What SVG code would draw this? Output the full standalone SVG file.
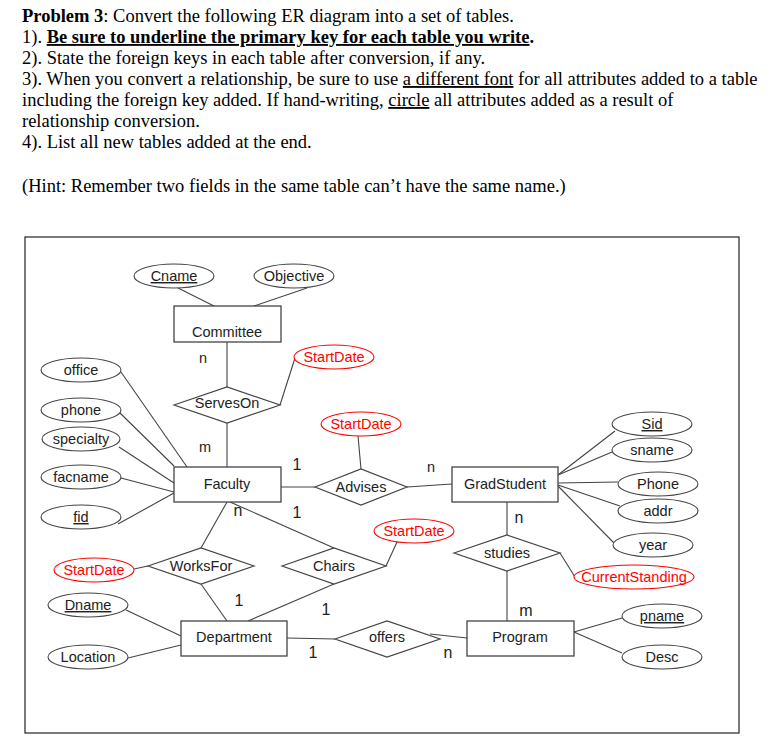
<svg xmlns="http://www.w3.org/2000/svg" width="772" height="749" viewBox="0 0 772 749">
<style>
.h{font-family:"Liberation Serif","Times New Roman",serif;font-size:18.5px;fill:#000}
.b{font-weight:bold}
.u{text-decoration:underline}
.t{font-family:"Liberation Sans",Arial,sans-serif;font-size:14.5px;fill:#222;text-anchor:middle}
.k{font-size:16px}
.r{fill:#f00}
.ent{fill:#fff;stroke:#444;stroke-width:1.3}
.rel{fill:#fff;stroke:#444;stroke-width:1.2}
.att{fill:#fff;stroke:#444;stroke-width:1.1}
.ratt{fill:#fff;stroke:#f00;stroke-width:1.1}
.c line{stroke:#444;stroke-width:1.1}
</style>
<rect width="772" height="749" fill="#fff"/>
<g id="header">
<text class="h" x="22" y="22"><tspan class="b">Problem 3</tspan>: Convert the following ER diagram into a set of tables.</text>
<text class="h" x="22" y="43">1). <tspan class="b u">Be sure to underline the primary key for each table you write</tspan><tspan class="b">.</tspan></text>
<text class="h" x="22" y="64">2). State the foreign keys in each table after conversion, if any.</text>
<text class="h" x="22" y="85">3). When you convert a relationship, be sure to use <tspan class="u">a different font</tspan> for all attributes added to a table</text>
<text class="h" x="22" y="106">including the foreign key added. If hand-writing, <tspan class="u">circle</tspan> all attributes added as a result of</text>
<text class="h" x="22" y="127">relationship conversion.</text>
<text class="h" x="22" y="148">4). List all new tables added at the end.</text>
<text class="h" x="22" y="192">(Hint: Remember two fields in the same table can’t have the same name.)</text>
</g>
<rect id="frame" x="25" y="237" width="714" height="496" fill="none" stroke="#333" stroke-width="1.3"/>
<g id="connectors" class="c">
<line x1="178" y1="288" x2="214" y2="306"/>
<line x1="307" y1="288" x2="254" y2="306"/>
<line x1="227" y1="342" x2="227" y2="387"/>
<line x1="280" y1="405" x2="295" y2="358"/>
<line x1="227" y1="423" x2="227" y2="467"/>
<line x1="121" y1="372" x2="187" y2="467"/>
<line x1="120" y1="413" x2="174" y2="466"/>
<line x1="119" y1="447" x2="174" y2="483"/>
<line x1="121" y1="478" x2="174" y2="492"/>
<line x1="118" y1="524" x2="174" y2="493"/>
<line x1="281" y1="487" x2="315" y2="487"/>
<line x1="358" y1="436" x2="361" y2="469"/>
<line x1="407" y1="487" x2="452" y2="484"/>
<line x1="227" y1="502" x2="201" y2="548"/>
<line x1="230" y1="502" x2="334" y2="548"/>
<line x1="134" y1="569" x2="148" y2="566"/>
<line x1="386" y1="566" x2="397" y2="542"/>
<line x1="201" y1="584" x2="227" y2="621"/>
<line x1="334" y1="584" x2="248" y2="621"/>
<line x1="126" y1="610" x2="181" y2="636"/>
<line x1="128" y1="658" x2="181" y2="645"/>
<line x1="287" y1="638" x2="335" y2="639"/>
<line x1="430" y1="634" x2="467" y2="638"/>
<line x1="507" y1="502" x2="507" y2="535"/>
<line x1="560" y1="553" x2="575" y2="577"/>
<line x1="507" y1="571" x2="507" y2="621"/>
<line x1="574" y1="632" x2="622" y2="618"/>
<line x1="574" y1="632" x2="622" y2="653"/>
<line x1="558" y1="475" x2="615" y2="431"/>
<line x1="558" y1="475" x2="612" y2="452"/>
<line x1="558" y1="483" x2="618" y2="482"/>
<line x1="558" y1="485" x2="620" y2="506"/>
<line x1="558" y1="486" x2="614" y2="543"/>
</g>
<g id="Committee"><rect class="ent" x="174" y="306" width="107" height="36"/><text class="t" x="227" y="337">Committee</text></g>
<g id="Faculty"><rect class="ent" x="174" y="467" width="107" height="35"/><text class="t" x="227" y="489">Faculty</text></g>
<g id="GradStudent"><rect class="ent" x="452" y="467" width="106" height="35"/><text class="t" x="505" y="489">GradStudent</text></g>
<g id="Department"><rect class="ent" x="181" y="621" width="106" height="35"/><text class="t" x="234" y="642">Department</text></g>
<g id="Program"><rect class="ent" x="467" y="621" width="107" height="35"/><text class="t" x="520" y="642">Program</text></g>
<g id="ServesOn"><polygon class="rel" points="174,405 227,387 280,405 227,423"/><text class="t" x="227" y="408">ServesOn</text></g>
<g id="Advises"><polygon class="rel" points="315,487 361,469 407,487 361,505"/><text class="t" x="361" y="492">Advises</text></g>
<g id="WorksFor"><polygon class="rel" points="148,566 201,548 254,566 201,584"/><text class="t" x="201" y="571">WorksFor</text></g>
<g id="Chairs"><polygon class="rel" points="282,566 334,548 386,566 334,584"/><text class="t" x="334" y="571">Chairs</text></g>
<g id="studies"><polygon class="rel" points="454,553 507,535 560,553 507,571"/><text class="t" x="507" y="558">studies</text></g>
<g id="offers"><polygon class="rel" points="335,639 387,621 440,639 387,657"/><text class="t" x="387" y="642">offers</text></g>
<g id="attr-Cname"><ellipse class="att" cx="174" cy="276" rx="40" ry="12"/><text class="t u" x="174" y="281">Cname</text></g>
<g id="attr-Objective"><ellipse class="att" cx="294" cy="276" rx="40" ry="12"/><text class="t" x="294" y="281">Objective</text></g>
<g id="attr-StartDate-ServesOn"><ellipse class="ratt" cx="334" cy="357" rx="40" ry="12"/><text class="t r" x="334" y="362">StartDate</text></g>
<g id="attr-office"><ellipse class="att" cx="81" cy="370" rx="40" ry="12"/><text class="t" x="81" y="375">office</text></g>
<g id="attr-phone"><ellipse class="att" cx="81" cy="410" rx="40" ry="12"/><text class="t" x="81" y="415">phone</text></g>
<g id="attr-specialty"><ellipse class="att" cx="81" cy="439" rx="39" ry="12"/><text class="t" x="81" y="444">specialty</text></g>
<g id="attr-facname"><ellipse class="att" cx="81" cy="477" rx="40" ry="12"/><text class="t" x="81" y="482">facname</text></g>
<g id="attr-fid"><ellipse class="att" cx="81" cy="517" rx="40" ry="12"/><text class="t u" x="81" y="522">fid</text></g>
<g id="attr-StartDate-Advises"><ellipse class="ratt" cx="361" cy="424" rx="40" ry="12"/><text class="t r" x="361" y="429">StartDate</text></g>
<g id="attr-Sid"><ellipse class="att" cx="652" cy="424" rx="40" ry="12"/><text class="t u" x="652" y="429">Sid</text></g>
<g id="attr-sname"><ellipse class="att" cx="652" cy="450" rx="40" ry="12"/><text class="t" x="652" y="455">sname</text></g>
<g id="attr-Phone"><ellipse class="att" cx="658" cy="484" rx="40" ry="12"/><text class="t" x="658" y="489">Phone</text></g>
<g id="attr-addr"><ellipse class="att" cx="658" cy="511" rx="40" ry="12"/><text class="t" x="658" y="516">addr</text></g>
<g id="attr-year"><ellipse class="att" cx="653" cy="545" rx="40" ry="12"/><text class="t" x="653" y="550">year</text></g>
<g id="attr-StartDate-Chairs"><ellipse class="ratt" cx="414" cy="531" rx="40" ry="12"/><text class="t r" x="414" y="536">StartDate</text></g>
<g id="attr-CurrentStanding"><ellipse class="ratt" cx="634" cy="577" rx="60" ry="12"/><text class="t r" x="634" y="582">CurrentStanding</text></g>
<g id="attr-StartDate-WorksFor"><ellipse class="ratt" cx="94" cy="570" rx="40" ry="12"/><text class="t r" x="94" y="575">StartDate</text></g>
<g id="attr-Dname"><ellipse class="att" cx="88" cy="605" rx="40" ry="12"/><text class="t u" x="88" y="610">Dname</text></g>
<g id="attr-Location"><ellipse class="att" cx="88" cy="657" rx="40" ry="12"/><text class="t" x="88" y="662">Location</text></g>
<g id="attr-pname"><ellipse class="att" cx="662" cy="616" rx="40" ry="12"/><text class="t u" x="662" y="621">pname</text></g>
<g id="attr-Desc"><ellipse class="att" cx="662" cy="657" rx="40" ry="12"/><text class="t" x="662" y="662">Desc</text></g>
<g id="cardinalities">
<text class="t" x="203" y="363">n</text>
<text class="t" x="205" y="452">m</text>
<text class="t k" x="297" y="470">1</text>
<text class="t k" x="297" y="518">1</text>
<text class="t k" x="238" y="516">n</text>
<text class="t" x="431" y="472">n</text>
<text class="t k" x="519" y="523">n</text>
<text class="t k" x="239" y="606">1</text>
<text class="t k" x="326" y="615">1</text>
<text class="t k" x="313" y="658">1</text>
<text class="t k" x="448" y="658">n</text>
<text class="t k" x="526" y="616">m</text>
</g>
</svg>
